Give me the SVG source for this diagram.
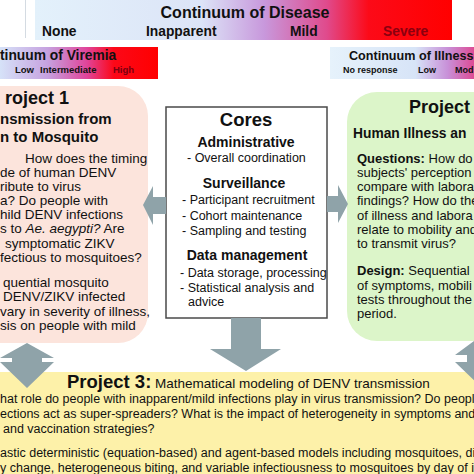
<svg xmlns="http://www.w3.org/2000/svg" width="474" height="474" viewBox="0 0 474 474">
<style>
text{font-family:"Liberation Sans",Arial,sans-serif;fill:#111}
.b{font-weight:bold}
.body{font-size:13.5px}
.body2{font-size:13px}
.body3{font-size:12.5px}
.core{font-size:12.5px}
.coreh{font-size:14px;font-weight:bold}
.arrow{fill:#8fa3a9}
</style>
<defs>
<linearGradient id="gDisease" gradientUnits="userSpaceOnUse" x1="35" y1="0" x2="452" y2="0">
<stop offset="0" stop-color="#e3f1fb"/>
<stop offset="0.4" stop-color="#dce4f7"/>
<stop offset="0.55" stop-color="#c898dc"/>
<stop offset="0.7" stop-color="#e04a8c"/>
<stop offset="0.8" stop-color="#fc0a18"/>
<stop offset="1" stop-color="#ff0000"/>
</linearGradient>
<linearGradient id="gViremia" gradientUnits="userSpaceOnUse" x1="0" y1="0" x2="158" y2="0">
<stop offset="0" stop-color="#d6e2f8"/>
<stop offset="0.3" stop-color="#c6a2e0"/>
<stop offset="0.55" stop-color="#e0449a"/>
<stop offset="0.72" stop-color="#fc0818"/>
<stop offset="1" stop-color="#ff0000"/>
</linearGradient>
<linearGradient id="gIllness" gradientUnits="userSpaceOnUse" x1="330" y1="0" x2="520" y2="0">
<stop offset="0" stop-color="#e6f2fb"/>
<stop offset="0.45" stop-color="#d7e4f7"/>
<stop offset="0.62" stop-color="#c890d8"/>
<stop offset="0.78" stop-color="#e0408a"/>
<stop offset="1" stop-color="#ff0000"/>
</linearGradient>
</defs>

<!-- Continuum bars -->
<g id="continuum-disease">
<line x1="25.5" y1="0" x2="25.5" y2="38" stroke="#d4dbe2" stroke-width="1"/>
<rect x="35" y="0" width="417" height="40" fill="url(#gDisease)"/>
<text x="245" y="17.5" class="b" font-size="16" text-anchor="middle">Continuum of Disease</text>
<text x="42" y="36" class="b" font-size="13.8">None</text>
<text x="146" y="36" class="b" font-size="13.8">Inapparent</text>
<text x="290" y="36" class="b" font-size="13.8">Mild</text>
<text x="383" y="36" class="b" font-size="13.8" style="fill:#8a0010">Severe</text>
</g>
<g id="continuum-viremia">
<rect x="0" y="47" width="158" height="32" fill="url(#gViremia)"/>
<text x="0" y="59.5" class="b" font-size="13.8">tinuum  of Viremia</text>
<text x="15" y="73" class="b" font-size="9.5">Low</text>
<text x="40" y="73" class="b" font-size="9.5">Intermediate</text>
<text x="113" y="73" class="b" font-size="9.5" style="fill:#7a0010">High</text>
</g>
<g id="continuum-illness">
<rect x="330" y="47" width="150" height="32" fill="url(#gIllness)"/>
<text x="349" y="59.5" class="b" font-size="12.6">Continuum of Illness</text>
<text x="343" y="73" class="b" font-size="9">No response</text>
<text x="418" y="73" class="b" font-size="9">Low</text>
<text x="455" y="73" class="b" font-size="9">Mod</text>
</g>

<!-- Project 1 -->
<g id="project1">
<rect x="-40" y="86" width="188" height="257" rx="30" fill="#fce4dc"/>
<text x="5" y="104" class="b" font-size="18">roject 1</text>
<text x="0" y="124" class="b" font-size="15">nsmission from</text>
<text x="0" y="142" class="b" font-size="15">n to Mosquito</text>
<text class="body">
<tspan x="25" y="163">How does the timing</tspan>
<tspan x="0" y="177">de of human DENV</tspan>
<tspan x="0" y="191">ribute to virus</tspan>
<tspan x="0" y="205">a?  Do people with</tspan>
<tspan x="0" y="219">hild DENV infections</tspan>
<tspan x="0" y="233">s to <tspan font-style="italic">Ae. aegypti?</tspan>  Are</tspan>
<tspan x="5" y="248">symptomatic ZIKV</tspan>
<tspan x="0" y="262">fectious to mosquitoes?</tspan>
<tspan x="3" y="287">quential mosquito</tspan>
<tspan x="3" y="301">DENV/ZIKV infected</tspan>
<tspan x="0" y="316">vary in severity of illness,</tspan>
<tspan x="0" y="330">sis on people with mild</tspan>
</text>
</g>

<!-- Project 2 -->
<g id="project2">
<rect x="347" y="92" width="170" height="249" rx="30" fill="#dcf5c9"/>
<text x="409" y="113" class="b" font-size="18">Project</text>
<text x="353" y="138" class="b" font-size="13.8">Human Illness  an</text>
<text class="body2">
<tspan x="357" y="163"><tspan font-weight="bold">Questions:</tspan> How do</tspan>
<tspan x="357" y="177">subjects' perception</tspan>
<tspan x="357" y="191">compare with labora</tspan>
<tspan x="357" y="205">findings? How do the</tspan>
<tspan x="357" y="220">of illness and labora</tspan>
<tspan x="357" y="234">relate to mobility and</tspan>
<tspan x="357" y="248">to transmit virus?</tspan>
<tspan x="357" y="275"><tspan font-weight="bold">Design:</tspan> Sequential</tspan>
<tspan x="357" y="290">of symptoms, mobili</tspan>
<tspan x="357" y="304">tests throughout the</tspan>
<tspan x="357" y="318">period.</tspan>
</text>
</g>

<!-- Project 3 -->
<g id="project3">
<rect x="-20" y="372" width="514" height="130" rx="20" fill="#fdf1a9"/>
<text x="67" y="388"><tspan class="b" font-size="18.5">Project 3:</tspan><tspan font-size="13.5"> Mathematical modeling  of DENV  transmission</tspan></text>
<text class="body3">
<tspan x="0" y="403">hat role do people with inapparent/mild infections play in virus transmission? Do peopl</tspan>
<tspan x="0" y="418">ections act as super-spreaders? What is the impact of heterogeneity in symptoms and r</tspan>
<tspan x="3" y="433">and vaccination strategies?</tspan>
<tspan x="0" y="457">astic deterministic (equation-based) and agent-based models including mosquitoes, di</tspan>
<tspan x="0" y="472">y change, heterogeneous biting, and variable infectiousness to mosquitoes by day of ill</tspan>
</text>
</g>

<!-- Cores -->
<g id="cores">
<rect x="166" y="107" width="161" height="211" fill="#ffffff" stroke="#4a4a4a" stroke-width="1.5"/>
<text x="246" y="126" class="b" font-size="18.5" text-anchor="middle">Cores</text>
<text x="246" y="147" class="coreh" text-anchor="middle">Administrative</text>
<text x="187" y="162" class="core">- Overall coordination</text>
<text x="244" y="188" class="coreh" text-anchor="middle">Surveillance</text>
<text x="182" y="204" class="core">- Participant recruitment</text>
<text x="182" y="220" class="core">- Cohort maintenance</text>
<text x="182" y="235" class="core">- Sampling and testing</text>
<text x="247" y="260" class="coreh" text-anchor="middle">Data management</text>
<text x="180" y="277" class="core">- Data storage, processing</text>
<text x="180" y="292" class="core">- Statistical analysis and</text>
<text x="188" y="306" class="core">advice</text>
</g>

<!-- Connectors -->
<g id="connectors">
<polygon class="arrow" points="166,197 153,197 153,186 143,205 153,225 153,214 166,214"/>
<polygon class="arrow" points="327,196 338,196 338,185 348,204 338,223 338,212 327,212"/>
<polygon class="arrow" points="231,318 261,318 261,349 281,349 246,371 210,349 231,349"/>
<polygon class="arrow" points="27,343 54,358 42,358 42,362 54,362 27,388 0,362 12,362 12,358 0,358"/>
<polygon class="arrow" points="482,335 509,355 497,355 497,362 509,362 482,388 455,362 467,362 467,355 455,355"/>
</g>
</svg>
